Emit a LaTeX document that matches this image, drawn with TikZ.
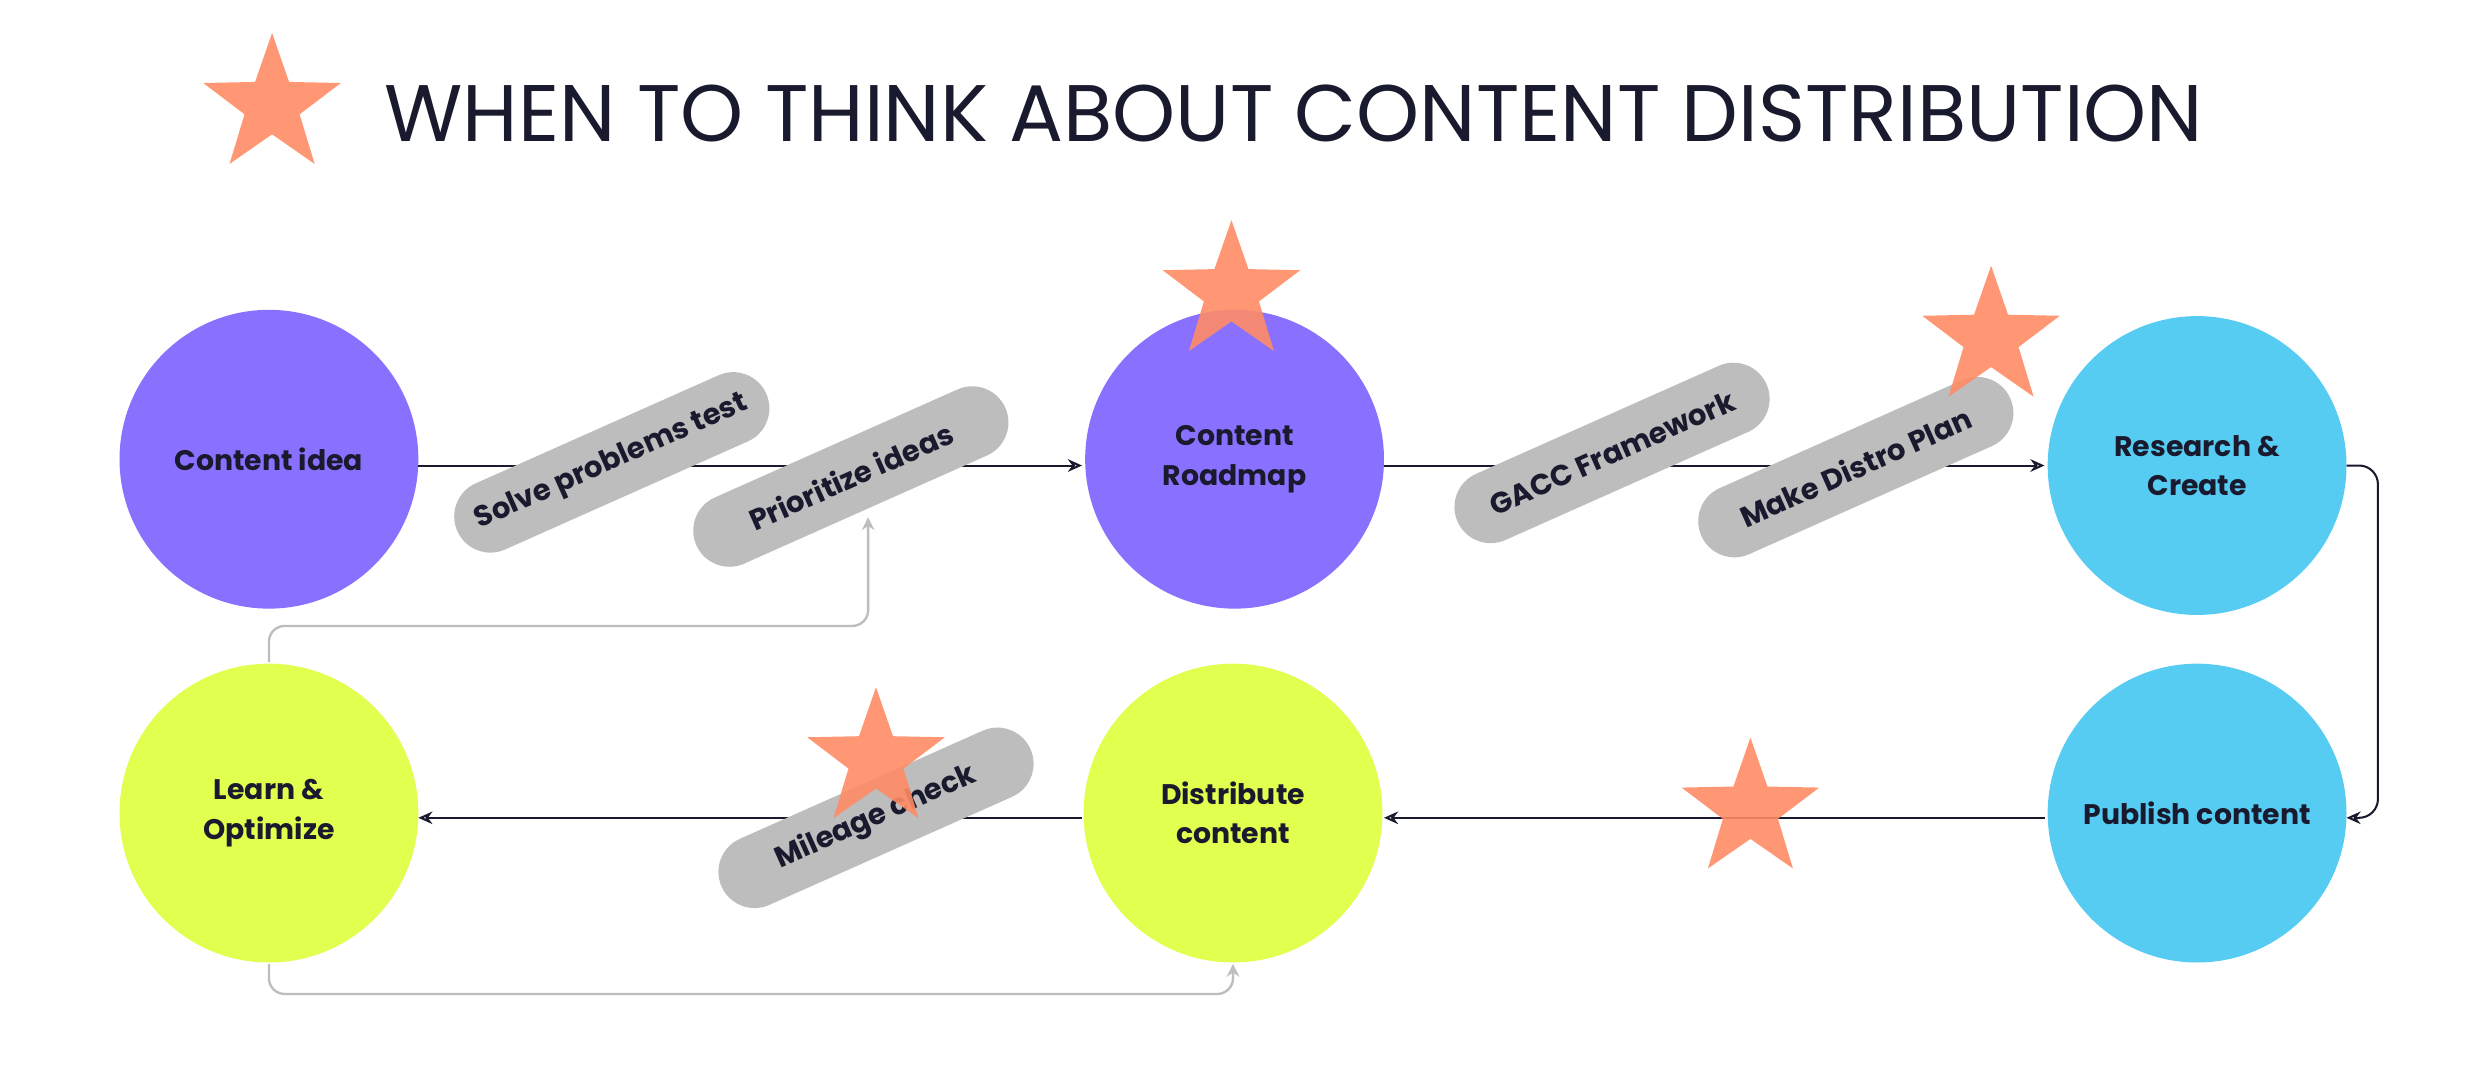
\documentclass[tikz,border=0pt]{standalone}
\usepackage{fontspec}
\setmainfont{Poppins}
\usetikzlibrary{shapes.geometric,arrows.meta}
\definecolor{purp}{HTML}{8A70FF}
\definecolor{cyanc}{HTML}{56CCF2}
\definecolor{lime}{HTML}{E0FF4F}
\definecolor{starc}{HTML}{FF8C66}
\definecolor{pillc}{HTML}{BDBDBD}
\definecolor{ink}{HTML}{1A1A2E}
\tikzset{
 circ/.style={circle,minimum size=190pt,inner sep=0pt,align=center,font=\fontsize{18}{25}\selectfont\bfseries,text=ink},
 pill/.style={rounded corners=23pt,fill=pillc,minimum width=215pt,minimum height=46pt,rotate=24,font=\fontsize{18.5}{22}\selectfont\bfseries,text=ink},
 mystar/.style={star,star points=5,star point ratio=2.5,fill=starc,fill opacity=0.9,minimum size=92pt,inner sep=0pt},
 flow/.style={draw=ink,line width=1.3pt,-{Stealth[length=9pt,width=8pt,open]}},
 back/.style={draw=pillc,line width=1.5pt,rounded corners=10pt,-{Stealth[length=8pt,width=8pt,open]}}
}
\begin{document}
\begin{tikzpicture}[x=1pt,y=-1pt]
\useasboundingbox[fill=white] (0,0) rectangle (1568,682);
\node[mystar] (t) at (173,67) {};
\node[anchor=west,text=ink,font=\fontsize{51}{55}\selectfont] (title) at (241,72) {WHEN TO THINK ABOUT CONTENT DISTRIBUTION};
\node[circ,fill=purp] (ci) at (171,292) {Content idea};
\node[circ,fill=purp] (cr) at (785,292) {Content\\Roadmap};
\node[circ,fill=cyanc] (rc) at (1397,296) {Research \&\\Create};
\node[circ,fill=cyanc] (pc) at (1397,517) {Publish content};
\node[circ,fill=lime] (dc) at (784,517) {Distribute\\content};
\node[circ,fill=lime] (lo) at (171,517) {Learn \&\\Optimize};
\coordinate (a1) at (266,296); \coordinate (a2) at (688,296);
\coordinate (b1) at (880,296); \coordinate (b2) at (1300,296);
\coordinate (c1) at (1492,296); \coordinate (c2) at (1492,520);
\coordinate (d1) at (1300,520); \coordinate (d2) at (880,520);
\coordinate (e1) at (688,520); \coordinate (e2) at (266,520);
\draw[flow] (a1)--(a2);
\draw[flow] (b1)--(b2);
\draw[flow,rounded corners=12pt] (c1)--(1512,296)--(1512,520)--(c2);
\draw[flow] (d1)--(d2);
\draw[flow] (e1)--(e2);
\node[pill] (p1) at (389,294) {Solve problems test};
\node[pill] (p2) at (541,303) {Prioritize ideas};
\node[pill] (p3) at (1025,288) {GACC Framework};
\node[pill] (p4) at (1180,297) {Make Distro Plan};
\node[pill] (p5) at (557,520) {Mileage check};
\coordinate (g1) at (171,421); \coordinate (g2) at (552,329);
\draw[back] (g1)--(171,398)--(552,398)--(g2);
\coordinate (h1) at (171,613); \coordinate (h2) at (784,613);
\draw[back] (h1)--(171,632)--(784,632)--(h2);
\node[mystar] (s1) at (783,186) {};
\node[mystar] (s2) at (1266,215) {};
\node[mystar] (s3) at (557,483) {};
\node[mystar] (s4) at (1113,515) {};
\end{tikzpicture}
\end{document}
